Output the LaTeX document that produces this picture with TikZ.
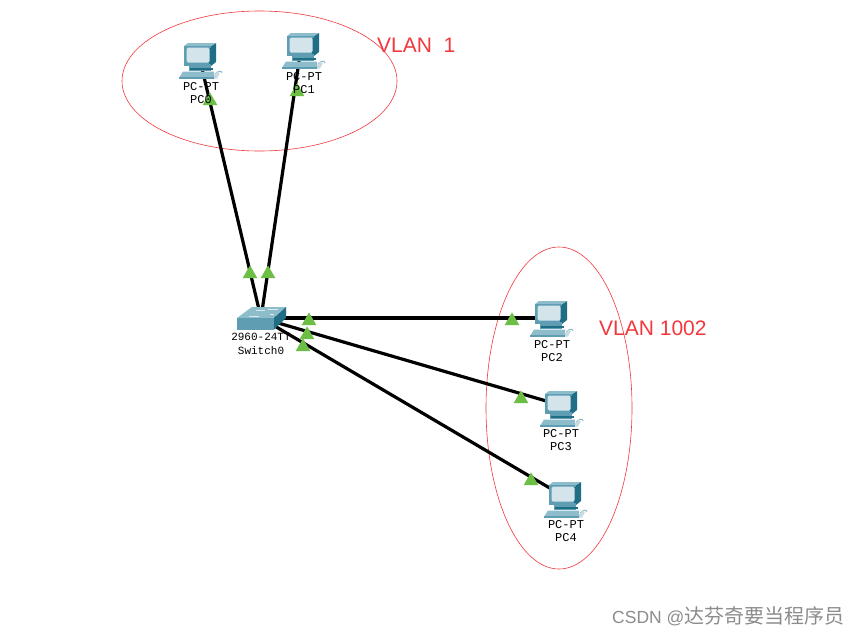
\documentclass[tikz,border=0pt]{standalone}
\usepackage{fontspec}
\setmainfont{Liberation Sans}
\setmonofont{Liberation Mono}
\newfontfamily\cjk{Noto Sans CJK SC}
\usetikzlibrary{shapes.geometric}
\definecolor{screenblue}{HTML}{D3E4EB}
\definecolor{caseblue}{HTML}{5F9DB2}
\definecolor{darkblue}{HTML}{1F6E85}
\definecolor{paleblue}{HTML}{8DBCCB}
\definecolor{linkgreen}{HTML}{6CBE45}
\definecolor{vlanred}{HTML}{F2383C}
\tikzset{
  link/.style={line width=3.2pt, black},
  vlan/.style={draw=vlanred, line width=0.6pt},
  vlantext/.style={text=vlanred, font=\fontsize{21}{24}\selectfont, inner sep=0pt, anchor=west},
  devtext/.style={font=\ttfamily\fontsize{12}{13}\selectfont, inner sep=0pt},
  up/.style={fill=linkgreen, regular polygon, regular polygon sides=3, minimum size=17pt,
    inner sep=0pt, anchor=corner 1},
  pics/pc/.style={code={
    % mouse
    \draw[paleblue, line width=1pt] (31,31) .. controls (35,27) and (38,28) .. (38,30);
    \fill[white!75!darkblue] (29,34) -- (33,29) -- (36,30) -- (33,35.5) -- (29,35.5) -- cycle;
    % stand and keyboard
    \fill[caseblue] (5,21) rectangle (27,28);
    \fill[darkblue] (6,25) rectangle (29,27);
    \fill[paleblue] (-5,35) -- (-1,28.5) -- (30,28.5) -- (30,35) -- cycle;
    \fill[caseblue] (-5,34) rectangle (30,36);
    % monitor
    \fill[darkblue] (27,3) -- (32,0) -- (32,19) -- (27,23) -- cycle;
    \fill[paleblue] (0,3) -- (4,0) -- (32,0) -- (27,3) -- cycle;
    \fill[caseblue] (0,3) rectangle (27,23);
    \fill[darkblue] (25,5) rectangle (27,21);
    \fill[screenblue, rounded corners=1.5pt] (2.5,4.5) rectangle (25.5,19.5);
  }}
}
\begin{document}
\begin{tikzpicture}[x=1pt, y=-1pt]
  \useasboundingbox[fill=white] (0,0) rectangle (858,635);
  % Anchor points of the devices
  \coordinate (sw) at (261,318);
  % VLAN outlines
  \draw[vlan] (259.5,81) ellipse [x radius=137.5, y radius=70];
  \draw[vlan] (559,408) ellipse [x radius=73, y radius=161];
  \node[vlantext] (vlan1) at (377,45) {VLAN\ \ 1};
  \node[vlantext] (vlan2) at (599,328) {VLAN 1002};
  % Cables go under the icons, so define the end points first
  \coordinate (pc0c) at (200,60);
  \coordinate (pc1c) at (301,48);
  \coordinate (pc2c) at (551,318);
  \coordinate (pc3c) at (560,405);
  \coordinate (pc4c) at (565,497);
  \draw[link] (pc0c) -- (sw);
  \draw[link] (pc1c) -- (sw);
  \draw[link] (pc2c) -- (sw);
  \draw[link] (pc3c) -- (sw);
  \draw[link] (pc4c) -- (sw);
  % The computers
  \pic (pc0) at (184,43) {pc};
  \pic (pc1) at (287,33) {pc};
  \pic (pc2) at (535,301) {pc};
  \pic (pc3) at (545,391) {pc};
  \pic (pc4) at (549,482) {pc};
  % The switch
  \fill[paleblue] (237,318) -- (252,307) -- (286,307) -- (274,318) -- cycle;
  \fill[caseblue] (237,318) rectangle (274,329.5);
  \fill[darkblue] (274,318) -- (286,307) -- (286,318) -- (274,329.5) -- cycle;
  \draw[white!70!paleblue, line width=0.7pt] (249,316) -- (259,316) (256,310) -- (265,310) (268,309) -- (278,309) (270,314) -- (274,314);
  % Link lights
  \node[up] (l0) at (210,92) {};
  \node[up] (l1) at (297,83) {};
  \node[up] (s0) at (250,265) {};
  \node[up] (s1) at (268,265) {};
  \node[up] (s2) at (309,312) {};
  \node[up] (s3) at (307,326) {};
  \node[up] (s4) at (303,338) {};
  \node[up] (l2) at (512,312) {};
  \node[up] (l3) at (521,390) {};
  \node[up] (l4) at (531,472) {};
  % Device captions
  \node[devtext, align=center] (t0) at (201,93) {PC-PT\\PC0};
  \node[devtext, align=center] (t1) at (304,83) {PC-PT\\PC1};
  \node[devtext, align=center] (t2) at (552,351) {PC-PT\\PC2};
  \node[devtext, align=center] (t3) at (561,440) {PC-PT\\PC3};
  \node[devtext, align=center] (t4) at (566,531) {PC-PT\\PC4};
  \node[devtext, font=\ttfamily\fontsize{11}{14}\selectfont, align=center] (tsw) at (261,344) {2960-24TT\\Switch0};
  % Watermark
  \node[text=black!45, font=\fontsize{17.5}{22}\selectfont, inner sep=0pt, anchor=west] (mark) at (612,616)
    {CSDN @{\cjk\fontsize{20}{22}\selectfont 达芬奇要当程序员}};
\end{tikzpicture}
\end{document}
